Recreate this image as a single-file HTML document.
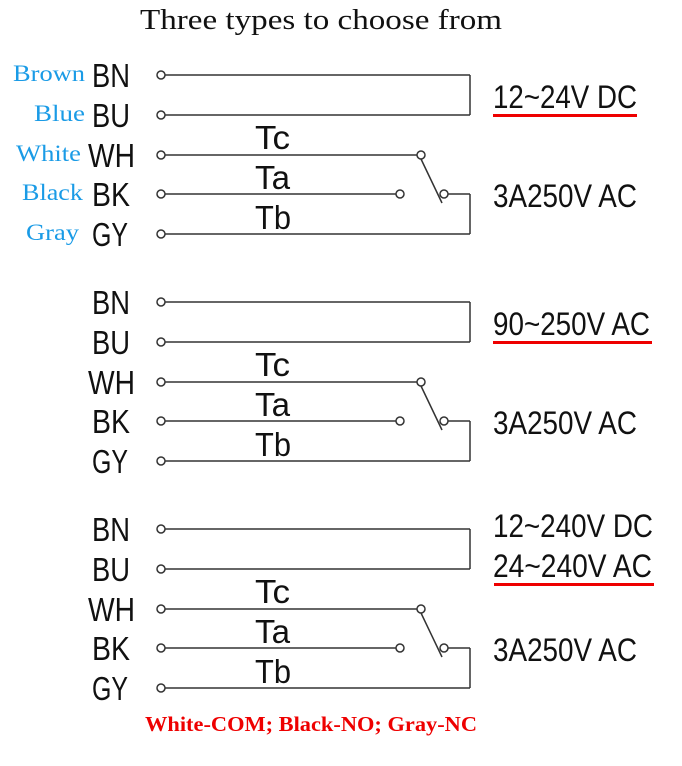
<!DOCTYPE html>
<html><head><style>
html,body{margin:0;padding:0;background:#fff;}
svg{display:block;}
.lbl{font-family:"Liberation Sans",sans-serif;font-size:33px;fill:#111;}
.col{font-family:"Liberation Serif",serif;font-size:23px;fill:#1a9be6;}
.v{font-family:"Liberation Sans",sans-serif;font-size:32px;fill:#111;}
</style></head><body>
<svg width="682" height="766" viewBox="0 0 682 766" xmlns="http://www.w3.org/2000/svg">
<text x="140" y="29" textLength="362" lengthAdjust="spacingAndGlyphs" font-family="Liberation Serif,serif" font-size="29" fill="#111">Three types to choose from</text>
<defs>
<g id="blk" fill="none" stroke="#333" stroke-width="1.5">
<line x1="165" y1="75" x2="470" y2="75"/>
<line x1="470" y1="75" x2="470" y2="115"/>
<line x1="165" y1="115" x2="470" y2="115"/>
<line x1="165" y1="155" x2="417" y2="155"/>
<line x1="165" y1="194" x2="396" y2="194"/>
<line x1="448" y1="194" x2="470" y2="194"/>
<line x1="470" y1="194" x2="470" y2="234"/>
<line x1="165" y1="234" x2="470" y2="234"/>
<line x1="421" y1="159" x2="442" y2="203"/>
<circle cx="161" cy="75" r="4" fill="#fff"/>
<circle cx="161" cy="115" r="4" fill="#fff"/>
<circle cx="161" cy="155" r="4" fill="#fff"/>
<circle cx="161" cy="194" r="4" fill="#fff"/>
<circle cx="161" cy="234" r="4" fill="#fff"/>
<circle cx="421" cy="155" r="4" fill="#fff"/>
<circle cx="400" cy="194" r="4" fill="#fff"/>
<circle cx="444" cy="194" r="4" fill="#fff"/>
</g>
<g id="txt">
<text class="lbl" x="92" y="87" textLength="38" lengthAdjust="spacingAndGlyphs">BN</text>
<text class="lbl" x="92" y="127" textLength="38" lengthAdjust="spacingAndGlyphs">BU</text>
<text class="lbl" x="88" y="167" textLength="47" lengthAdjust="spacingAndGlyphs">WH</text>
<text class="lbl" x="92" y="206" textLength="38" lengthAdjust="spacingAndGlyphs">BK</text>
<text class="lbl" x="92" y="246" textLength="36" lengthAdjust="spacingAndGlyphs">GY</text>
<text class="lbl" x="255" y="149" textLength="35" lengthAdjust="spacingAndGlyphs">Tc</text>
<text class="lbl" x="255" y="189" textLength="35" lengthAdjust="spacingAndGlyphs">Ta</text>
<text class="lbl" x="255" y="229" textLength="36" lengthAdjust="spacingAndGlyphs">Tb</text>
<text class="v" x="493" y="207" textLength="144" lengthAdjust="spacingAndGlyphs">3A250V AC</text>
</g>
</defs>
<use href="#blk"/><use href="#txt"/>
<use href="#blk" transform="translate(0,227)"/><use href="#txt" transform="translate(0,227)"/>
<use href="#blk" transform="translate(0,454)"/><use href="#txt" transform="translate(0,454)"/>
<text class="col" x="13" y="81" textLength="72" lengthAdjust="spacingAndGlyphs">Brown</text>
<text class="col" x="34" y="121" textLength="51" lengthAdjust="spacingAndGlyphs">Blue</text>
<text class="col" x="16" y="161" textLength="65" lengthAdjust="spacingAndGlyphs">White</text>
<text class="col" x="22" y="200" textLength="61" lengthAdjust="spacingAndGlyphs">Black</text>
<text class="col" x="26" y="240" textLength="53" lengthAdjust="spacingAndGlyphs">Gray</text>
<text class="v" x="493" y="108" textLength="144" lengthAdjust="spacingAndGlyphs">12~24V DC</text>
<rect x="493" y="114" width="144" height="3" fill="#e00"/>
<text class="v" x="493" y="335" textLength="157" lengthAdjust="spacingAndGlyphs">90~250V AC</text>
<rect x="493" y="341" width="159" height="3" fill="#e00"/>
<text class="v" x="493" y="537" textLength="160" lengthAdjust="spacingAndGlyphs">12~240V DC</text>
<text class="v" x="493" y="577" textLength="159" lengthAdjust="spacingAndGlyphs">24~240V AC</text>
<rect x="494" y="583" width="160" height="3" fill="#e00"/>
<text x="145" y="731" textLength="332" lengthAdjust="spacingAndGlyphs" font-family="Liberation Serif,serif" font-weight="bold" font-size="21" fill="#e00">White-COM; Black-NO; Gray-NC</text>
</svg>
</body></html>
